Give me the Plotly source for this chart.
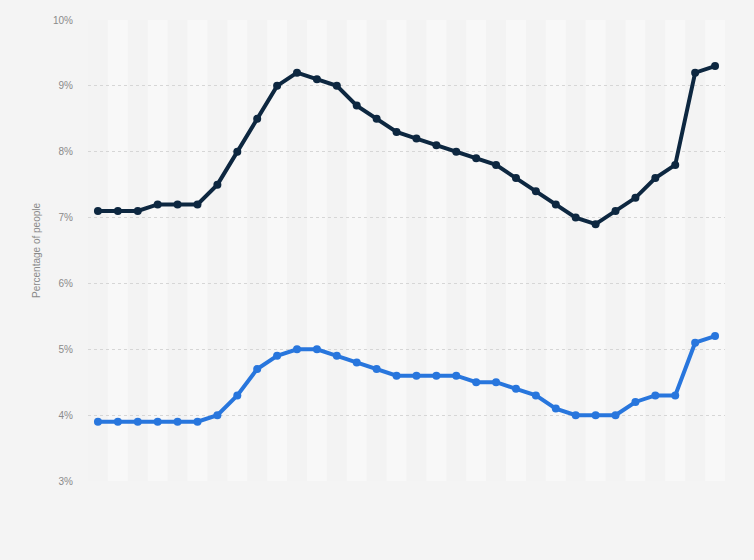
import plotly.graph_objects as go

x_idx = list(range(32))
series_dark = [7.1, 7.1, 7.1, 7.2, 7.2, 7.2, 7.5, 8.0, 8.5, 9.0, 9.2, 9.1, 9.0, 8.7, 8.5, 8.3,
               8.2, 8.1, 8.0, 7.9, 7.8, 7.6, 7.4, 7.2, 7.0, 6.9, 7.1, 7.3, 7.6, 7.8, 9.2, 9.3]
series_blue = [3.9, 3.9, 3.9, 3.9, 3.9, 3.9, 4.0, 4.3, 4.7, 4.9, 5.0, 5.0, 4.9, 4.8, 4.7, 4.6,
               4.6, 4.6, 4.6, 4.5, 4.5, 4.4, 4.3, 4.1, 4.0, 4.0, 4.0, 4.2, 4.3, 4.3, 5.1, 5.2]
y_ticks = [3, 4, 5, 6, 7, 8, 9, 10]
y_tick_labels = ["3%", "4%", "5%", "6%", "7%", "8%", "9%", "10%"]

fig = go.Figure()
fig.add_trace(go.Scatter(x=x_idx, y=series_dark, mode="lines+markers",
                         line=dict(color="#0d2740", width=4),
                         marker=dict(color="#0d2740", size=8), showlegend=False))
fig.add_trace(go.Scatter(x=x_idx, y=series_blue, mode="lines+markers",
                         line=dict(color="#2876dd", width=4),
                         marker=dict(color="#2876dd", size=8), showlegend=False))

shapes = []
for i in x_idx:
    if i % 2 == 1:
        shapes.append(dict(type="rect", xref="x", yref="y", x0=i - 0.5, x1=i + 0.5,
                           y0=3, y1=10, fillcolor="#f8f8f8", line=dict(width=0), layer="below"))

fig.update_layout(
    width=754, height=560,
    margin=dict(l=88, r=29, t=20, b=79),
    paper_bgcolor="#f4f4f4", plot_bgcolor="#f3f3f3",
    shapes=shapes,
    xaxis=dict(range=[-0.5, 31.5], showticklabels=False, showgrid=False, zeroline=False,
               showline=False, ticks=""),
    yaxis=dict(range=[3, 10], tickvals=y_ticks, ticktext=y_tick_labels,
               showgrid=True, gridcolor="#d6d6d6", griddash="dot", gridwidth=1,
               zeroline=False, showline=False, ticks="", ticklen=0, ticklabelstandoff=14,
               tickfont=dict(family="Arial, Liberation Sans", size=10, color="#8a8a8a"),
               title=dict(text="Percentage of people", standoff=10,
                          font=dict(family="Arial, Liberation Sans", size=10, color="#8a8a8a"))),
)

fig.write_html("out.html", config={"displayModeBar": False},
               post_script="document.body.style.margin='0';")
